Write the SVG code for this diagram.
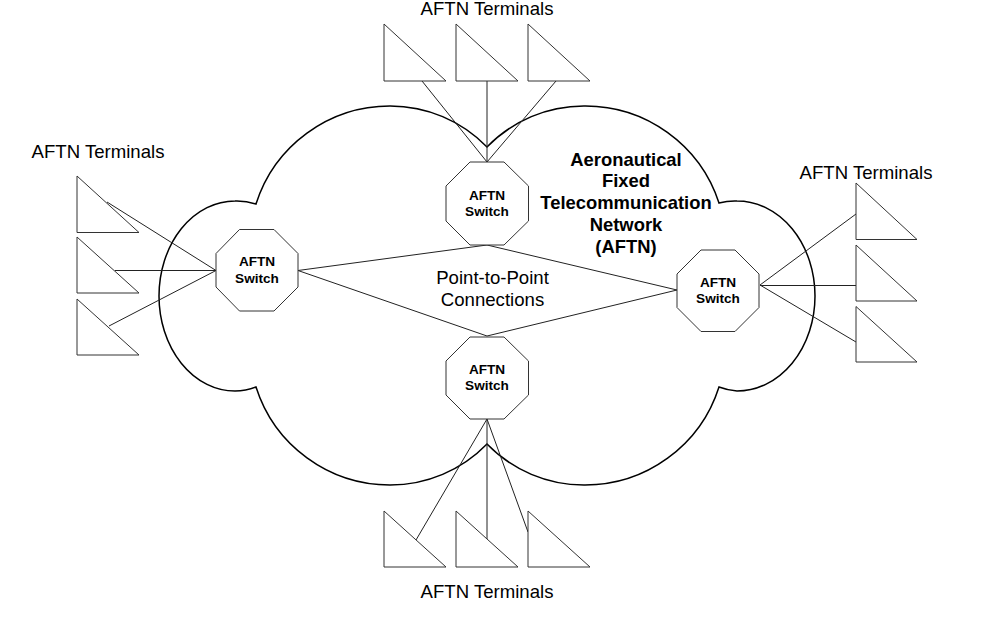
<svg xmlns="http://www.w3.org/2000/svg" width="1002" height="617" viewBox="0 0 1002 617">
<style>
.c{fill:none;stroke:#000;stroke-width:1.5}
.l{fill:none;stroke:#222;stroke-width:1}
.t{fill:#fff;stroke:#333;stroke-width:1}
text{font-family:"Liberation Sans",Arial,sans-serif;fill:#000;text-anchor:middle}
.a{font-size:18.6px}
.s{font-size:13.6px;font-weight:bold}
.b{font-size:18.4px;font-weight:bold}
</style>
<rect width="1002" height="617" fill="#fff"/>
<g id="cloud"><path class="c" d="M487 147A135 135 0 0 0 390 106A140.600 140.600 0 0 0 256 204A76 95 0 0 0 235 201A76 95 0 0 0 159 296A76 95 0 0 0 235 391A76 95 0 0 0 256 387A140.600 140.600 0 0 0 390 485A135 135 0 0 0 487 444A135 135 0 0 0 584 485A140.600 140.600 0 0 0 719 387A76 95 0 0 0 737 391A78 95 0 0 0 815 296A78 95 0 0 0 737 201A76 95 0 0 0 719 203A140.600 140.600 0 0 0 584 106A135 135 0 0 0 487 147Z"/></g>
<g id="connectors">
<path class="l" d="M422 81L487 162M487 81V162M556 81L487 162M107 202L216 270.500M115 270.500H216M109 326L216 270.500M298 270.500L487 245L677 290L487 336L298 270.500M760 285L856 214M760 285.500H856M760 285L856 342M487 419L416 540M487 419V540M487 419L528 532"/>
</g>
<g id="term-top-1"><path class="t" d="M384 24V81H446Z"/></g>
<g id="term-top-2"><path class="t" d="M456 24V81H518Z"/></g>
<g id="term-top-3"><path class="t" d="M528 24V81H590Z"/></g>
<g id="term-left-1"><path class="t" d="M77 176V232.500H139Z"/></g>
<g id="term-left-2"><path class="t" d="M77 237V293H139Z"/></g>
<g id="term-left-3"><path class="t" d="M77 299V355H139Z"/></g>
<g id="term-right-1"><path class="t" d="M856 183V239.500H917Z"/></g>
<g id="term-right-2"><path class="t" d="M856 245V301H917Z"/></g>
<g id="term-right-3"><path class="t" d="M856 306.500V362H917Z"/></g>
<g id="term-bottom-1"><path class="t" d="M384 511V567H446Z"/></g>
<g id="term-bottom-2"><path class="t" d="M456 511V567H518Z"/></g>
<g id="term-bottom-3"><path class="t" d="M528 511V567H590Z"/></g>
<g id="switch-top"><path class="t" d="M470 162H504L528.500 186V221L504 245H470L446 221V186Z"/><text class="s" x="487" y="200">AFTN</text><text class="s" x="487" y="216">Switch</text></g>
<g id="switch-left"><path class="t" d="M239.500 229.500H274L298 253.500V287L274 311H239.500L216 287V253.500Z"/><text class="s" x="257" y="266">AFTN</text><text class="s" x="257" y="283">Switch</text></g>
<g id="switch-right"><path class="t" d="M701 250H735L759 274V307.500L735 331.500H701L677 307.500V274Z"/><text class="s" x="718" y="287">AFTN</text><text class="s" x="718" y="303">Switch</text></g>
<g id="switch-bottom"><path class="t" d="M470 337H504L528.500 361V395L504 419H470L446 395V361Z"/><text class="s" x="487" y="374">AFTN</text><text class="s" x="487" y="390">Switch</text></g>
<g id="labels">
<text class="a" x="487" y="15">AFTN Terminals</text>
<text class="a" x="98" y="158">AFTN Terminals</text>
<text class="a" x="866" y="179">AFTN Terminals</text>
<text class="a" x="487" y="598">AFTN Terminals</text>
<text class="a" x="492.500" y="284">Point-to-Point</text>
<text class="a" x="492.500" y="306">Connections</text>
<text class="b" x="626" y="166">Aeronautical</text>
<text class="b" x="626" y="187">Fixed</text>
<text class="b" x="626" y="209">Telecommunication</text>
<text class="b" x="626" y="231">Network</text>
<text class="b" x="626" y="253">(AFTN)</text>
</g>
</svg>
